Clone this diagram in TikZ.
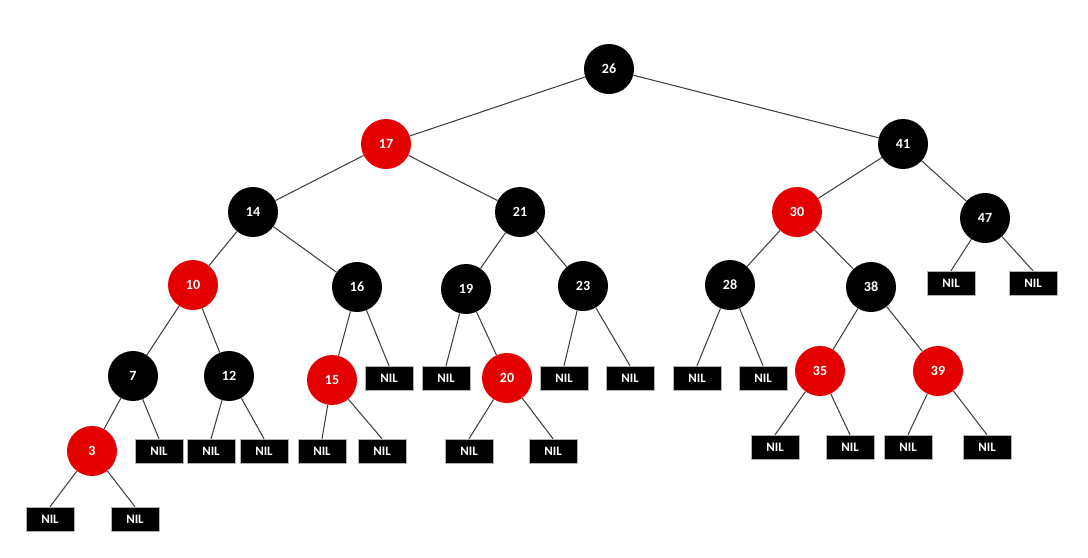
\documentclass[tikz,border=0pt]{standalone}
\usepackage{fontspec}
\setmainfont{Carlito}
\begin{document}
\begin{tikzpicture}[x=0.03cm,y=-0.03cm,
  rb/.style={circle,minimum size=1.5cm,inner sep=0pt,font=\bfseries\fontsize{12}{12}\selectfont,text=white},
  bn/.style={rb,fill=black},
  rn/.style={rb,fill=red!90!black},
  nil/.style={fill=black,draw=gray!60,minimum width=1.44cm,minimum height=0.72cm,inner sep=0pt,font=\bfseries\fontsize{11}{11}\selectfont,text=white},
  e/.style={draw=black!75,line width=0.9pt}]
\useasboundingbox (0,0) rectangle (1088,558);
\node[bn] (n26) at (609,69) {26};
\node[rn] (n17) at (386,144) {17};
\node[bn] (n41) at (903,144) {41};
\node[bn] (n14) at (253,212) {14};
\node[bn] (n21) at (520,212) {21};
\node[rn] (n30) at (797,212) {30};
\node[bn] (n47) at (985,218) {47};
\node[rn] (n10) at (193,285) {10};
\node[bn] (n16) at (357,287) {16};
\node[bn] (n19) at (466,289) {19};
\node[bn] (n23) at (583,286) {23};
\node[bn] (n28) at (730,285) {28};
\node[bn] (n38) at (871,287) {38};
\node[nil] (a47) at (951,283) {NIL};
\node[nil] (b47) at (1033,283) {NIL};
\node[bn] (n7) at (133,376) {7};
\node[bn] (n12) at (229,376) {12};
\node[rn] (n15) at (332,380) {15};
\node[nil] (b16) at (389,378) {NIL};
\node[nil] (a19) at (446,378) {NIL};
\node[rn] (n20) at (507,378) {20};
\node[nil] (a23) at (564,378) {NIL};
\node[nil] (b23) at (630,378) {NIL};
\node[nil] (a28) at (697,378) {NIL};
\node[nil] (b28) at (763,378) {NIL};
\node[rn] (n35) at (820,371) {35};
\node[rn] (n39) at (938,371) {39};
\node[rn] (n3) at (92,451) {3};
\node[nil] (b7) at (159,451) {NIL};
\node[nil] (a12) at (211,451) {NIL};
\node[nil] (b12) at (264,451) {NIL};
\node[nil] (a15) at (322,451) {NIL};
\node[nil] (b15) at (382,451) {NIL};
\node[nil] (a20) at (469,451) {NIL};
\node[nil] (b20) at (553,451) {NIL};
\node[nil] (a35) at (775,447) {NIL};
\node[nil] (b35) at (850,447) {NIL};
\node[nil] (a39) at (908,447) {NIL};
\node[nil] (b39) at (987,447) {NIL};
\node[nil] (a3) at (50,519) {NIL};
\node[nil] (b3) at (135,519) {NIL};
\foreach \p/\c in {n26/n17,n26/n41,n17/n14,n17/n21,n41/n30,n41/n47,n14/n10,n14/n16,n21/n19,n21/n23,n30/n28,n30/n38,n10/n7,n10/n12,n16/n15,n19/n20,n7/n3,n38/n35,n38/n39}
  \draw[e] (\p) -- (\c);
\foreach \p/\c in {n47/a47,n47/b47,n16/b16,n19/a19,n23/a23,n23/b23,n28/a28,n28/b28,n7/b7,n12/a12,n12/b12,n15/a15,n15/b15,n20/a20,n20/b20,n35/a35,n35/b35,n39/a39,n39/b39,n3/a3,n3/b3}
  \draw[e] (\p) -- (\c.north);
\end{tikzpicture}
\end{document}
